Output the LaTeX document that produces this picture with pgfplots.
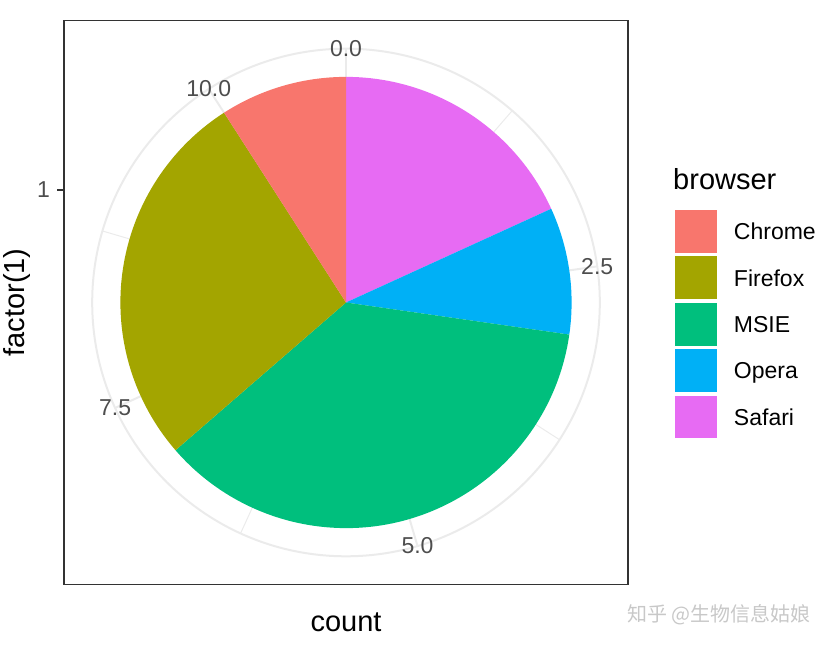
\documentclass[border=0pt]{standalone}
\usepackage{pgfplots}
\pgfplotsset{compat=1.18}
\usepackage{pgfplotstable}
\usepackage{fontspec}
\setmainfont{Liberation Sans}
\newfontfamily\cjk{Noto Sans CJK SC}

\definecolor{Chrome}{HTML}{F8766D}
\definecolor{Firefox}{HTML}{A3A500}
\definecolor{MSIE}{HTML}{00BF7D}
\definecolor{Opera}{HTML}{00B0F6}
\definecolor{Safari}{HTML}{E76BF3}
\definecolor{gray20}{HTML}{333333}
\definecolor{gray30}{HTML}{4D4D4D}
\definecolor{gray92}{HTML}{EBEBEB}

\newcommand\axisfont{\fontsize{23bp}{27bp}\selectfont}
\newcommand\titlefont{\fontsize{29bp}{34bp}\selectfont}

% stacking order (clockwise from the top)
\pgfplotstableread{
browser count
Safari  2
Opera   1
MSIE    4
Firefox 3
Chrome  1
}\browsers

\gdef\cumsum{0}%
\foreach \i in {0,...,4}{%
  \pgfplotstablegetelem{\i}{count}\of\browsers%
  \pgfmathsetmacro\newcum{\cumsum+\pgfplotsretval}%
  \expandafter\xdef\csname wS\i\endcsname{\cumsum}%
  \expandafter\xdef\csname wE\i\endcsname{\newcum}%
  \pgfplotstablegetelem{\i}{browser}\of\browsers%
  \expandafter\xdef\csname wN\i\endcsname{\pgfplotsretval}%
  \xdef\cumsum{\newcum}%
}%

\begin{document}
\begin{tikzpicture}[x=1bp,y=1bp]
\begin{axis}[
  at={(64bp,65.7bp)}, anchor=south west,
  scale only axis, width=564bp, height=563.6bp,
  xmin=0, xmax=1, ymin=0, ymax=1,
  clip=false,
  xtick=\empty, ytick={0.7}, yticklabels={1},
  ytick pos=left,
  axis line style={draw=gray20, line width=1.5bp},
  tick style={draw=gray20, line width=1.5bp},
  tick align=outside, major tick length=7bp,
  yticklabel style={font=\axisfont, text=gray30, inner sep=0pt, xshift=-7bp},
  xlabel={count}, ylabel={factor(1)},
  every axis x label/.style={at={(axis description cs:0.5,-0.0841)}, anchor=base, font=\titlefont, inner sep=0pt},
  every axis y label/.style={at={(axis description cs:-0.06915,0.5)}, rotate=90, anchor=base, font=\titlefont, inner sep=0pt},
  legend image code/.code={\fill[#1, draw=none] (0bp,-13.2bp) rectangle (42bp,29.6bp);},
  legend style={at={(axis description cs:1.0833,0.6641)}, anchor=north west,
    draw=none, fill=none, inner sep=0pt, outer sep=0pt,
    row sep=3.6bp, column sep=17bp,
    nodes={inner sep=0pt, outer sep=0pt, text depth=0pt, font=\axisfont},
    cells={anchor=base west}},
]
% grid (background)
\draw[gray92, line width=2bp] (axis cs:0.5,0.5) circle[radius=253.8bp];
\pgfplotsinvokeforeach{0,2.5,5,7.5,10}{
  \draw[gray92, line width=2bp] (axis cs:0.5,0.5) -- ++({90-360*#1/\cumsum}:253.8bp);
}
\pgfplotsinvokeforeach{1.25,3.75,6.25,8.75}{
  \draw[gray92, line width=1bp] (axis cs:0.5,0.5) -- ++({90-360*#1/\cumsum}:253.8bp);
}
% pie wedges
\pgfplotsinvokeforeach{0,...,4}{
  \fill[\csname wN#1\endcsname] (axis cs:0.5,0.5) -- ++({90-360*\csname wS#1\endcsname/\cumsum}:225.6bp)
    arc[start angle={90-360*\csname wS#1\endcsname/\cumsum}, end angle={90-360*\csname wE#1\endcsname/\cumsum}, radius=225.6bp] -- cycle;
}
% theta labels
\pgfplotsinvokeforeach{0.0,2.5,5.0,7.5,10.0}{
  \path (axis cs:0.5,0.5) ++({90-360*#1/\cumsum}:253.8bp) node[font=\axisfont, text=gray30, inner sep=0pt] {#1};
}
% legend
\addlegendimage{fill=Chrome}\addlegendentry{Chrome}
\addlegendimage{fill=Firefox}\addlegendentry{Firefox}
\addlegendimage{fill=MSIE}\addlegendentry{MSIE}
\addlegendimage{fill=Opera}\addlegendentry{Opera}
\addlegendimage{fill=Safari}\addlegendentry{Safari}
\node[anchor=base west, font=\titlefont, inner sep=0pt] at (axis description cs:1.0798,0.6996) {browser};
\end{axis}
\node[font=\cjk\fontsize{20bp}{24bp}\selectfont, text={rgb,255:red,200;green,200;blue,200}, inner sep=0pt] at (719,35) {知乎 @生物信息姑娘};
\pgfresetboundingbox
\path[use as bounding box] (0,0) rectangle (830,650);
\end{tikzpicture}
\end{document}
